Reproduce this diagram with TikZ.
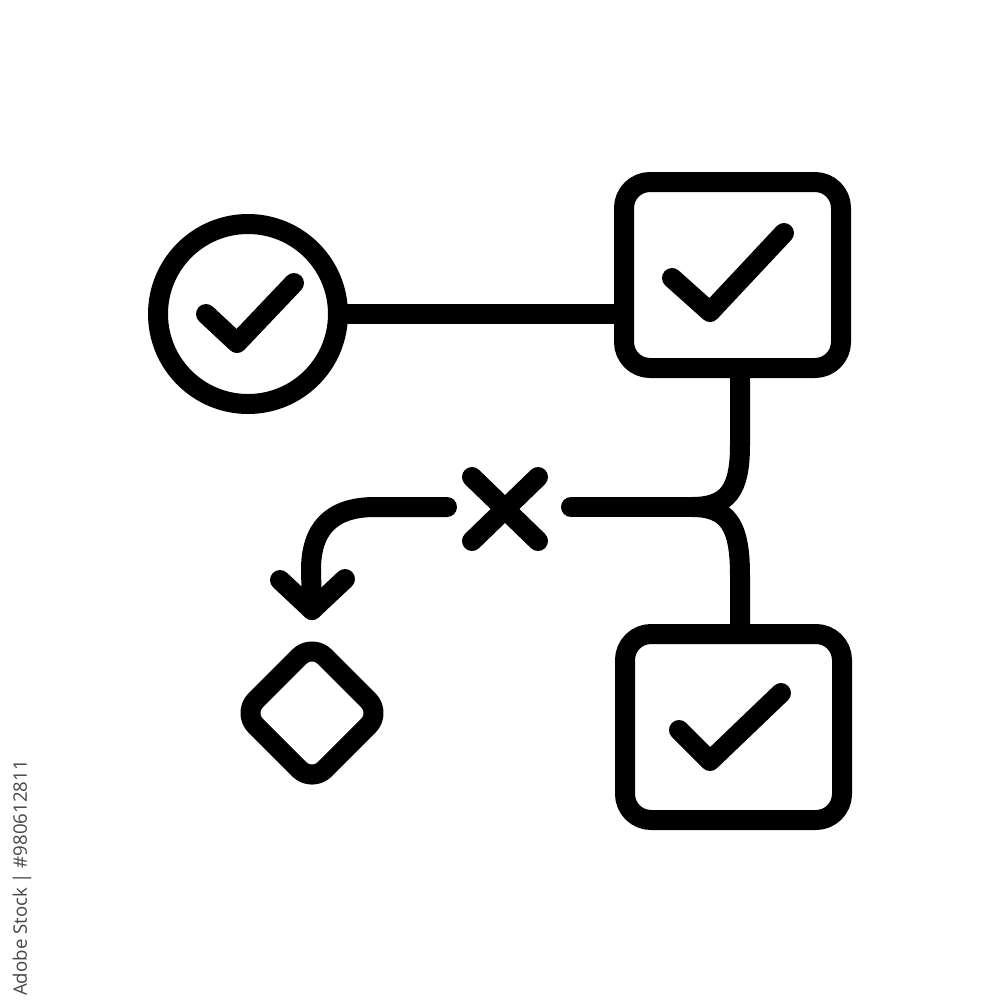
\documentclass[tikz,border=0pt]{standalone}
\usepackage{fontspec}
\newfontfamily\wmfont{Open Sans}
\usetikzlibrary{shapes.geometric}
\begin{document}
\begin{tikzpicture}[x=0.1mm,y=-0.1mm,
  ink/.style={line width=2mm,line cap=round,line join=round,black},
  boxnode/.style={draw,ink,rectangle,rounded corners=2.6mm,minimum width=21.7mm,minimum height=18.6mm,inner sep=0pt,outer sep=0pt},
  circnode/.style={draw,ink,circle,minimum size=18mm,inner sep=0pt,outer sep=0pt},
  diamnode/.style={draw,ink,diamond,minimum size=13.8mm,inner sep=0pt,outer sep=0pt,rounded corners=1.8mm}]
\useasboundingbox[fill=white] (0,0) rectangle (1000,1000);
% nodes
\node[circnode] (circ) at (248,314) {};
\node[boxnode] (top) at (732.5,275) {};
\node[boxnode] (bot) at (733.5,727) {};
\node[diamnode] (dia) at (312,713) {};
% check marks
\draw[ink] (206,314) -- (237,343) -- (294,283);
\draw[ink] (672,278) -- (710,312) -- (784,233);
\draw[ink] (679,730) -- (710,761) -- (781,693);
% circle to top box
\draw[ink,line cap=butt] (circ.east) -- (circ.east -| top.west);
% branching connector
\coordinate (j) at (692,507);
\coordinate (xr) at (571,507);
\draw[ink,line cap=butt] (top.south -| 740,0) -- (740,445) .. controls (740,490) and (728,507) .. (j);
\draw[ink,line cap=butt] (j) .. controls (728,507) and (740,525) .. (740,575) -- (bot.north -| 740,0);
\draw[ink,line cap=round] (xr) -- (j);
% X mark
\node (xm) at (505,509) {};
\draw[ink] (472,477) -- (538,541);
\draw[ink] (538,477) -- (472,541);
% curved arrow
\coordinate (al) at (447,507);
\coordinate (at) at (312,610);
\draw[ink] (al) -- (375,507) .. controls (330,507) and (311,530) .. (311,570) -- (at);
\draw[ink] (280,580) -- (at) -- (345,579);
% watermark text
\node[rotate=90,text=black!72,font=\wmfont\fontsize{5.3}{6}\selectfont,inner sep=0pt] (wm) at (22,878) {Adobe Stock | \#980612811};
\end{tikzpicture}
\end{document}
